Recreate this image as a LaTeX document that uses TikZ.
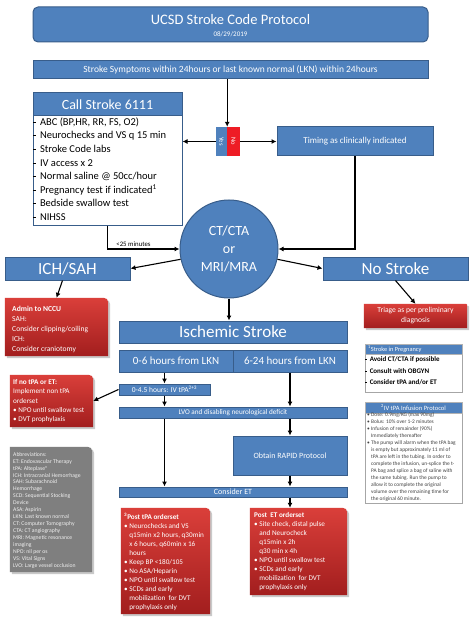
\documentclass[tikz,border=0pt]{standalone}
\usepackage{fontspec}
\setmainfont{Carlito}
\usetikzlibrary{arrows.meta,backgrounds,calc}
\definecolor{myblue}{HTML}{4F81BD}
\definecolor{myborder}{HTML}{385D8A}
\definecolor{redtop}{HTML}{DA3F3A}
\definecolor{redbot}{HTML}{A21E1E}
\definecolor{mygray}{HTML}{7F7F7F}
\definecolor{nored}{HTML}{EE1C25}
\newcommand{\fs}[2]{\fontsize{#1}{#2}\selectfont}
\newcommand{\dsh}{\rule[0.25em]{0.3em}{0.09em}\hspace{0.35em}}
\tikzset{
 bluebox/.style={draw=myborder, line width=1pt, fill=myblue, text=white, inner sep=0pt, align=center},
 whitebox/.style={draw=myborder, line width=1pt, fill=white, inner sep=0pt},
 plainbox/.style={inner sep=0pt, draw=none},
 arr/.style={draw=black, line width=1.1pt, -{Latex[length=5pt,width=5pt]}},
 ln/.style={draw=black, line width=1.1pt},
 txt/.style={inner sep=0pt, align=left, anchor=north west, text=white},
}
\newcommand{\cornerbox}[3]{%
 \begin{scope}[on background layer]
  \fill[black!35,opacity=0.6] ([xshift=2pt,yshift=-2pt]#1.south west) -- ([xshift=2pt,yshift=-2pt]#1.north west) -- ([xshift=2pt-#2,yshift=-2pt]#1.north east) .. controls ([xshift=2pt,yshift=-2pt]#1.north east) .. ([xshift=2pt,yshift=-2pt-#2]#1.north east) -- ([xshift=2pt,yshift=-2pt]#1.south east) -- cycle;
  \shade[#3] (#1.south west) -- (#1.north west) -- ([xshift=-#2]#1.north east) .. controls (#1.north east) .. ([yshift=-#2]#1.north east) -- (#1.south east) -- cycle;
 \end{scope}}
\begin{document}
\begin{tikzpicture}[x=1pt,y=-1pt]
\useasboundingbox (0,0) rectangle (474,620);
\begin{scope}[on background layer]
\fill[white] (0,0) rectangle (474,620);
\end{scope}

% title
\node[bluebox, rounded corners=5pt, minimum width=395pt, minimum height=35pt] (title) at (230.5,24.5) {};
\node[plainbox, text=white, font=\fs{14.5}{16}] (titletxt) at (230.5,19.5) {UCSD Stroke Code Protocol};
\node[plainbox, text=white, font=\fs{7}{8}] (date) at (230.5,34.5) {08/29/2019};

\node[bluebox, minimum width=395pt, minimum height=18pt, font=\fs{9.5}{11}] (sym) at (230.5,70) {Stroke Symptoms within 24hours or last known normal (LKN) within 24hours};

% call stroke
\node[whitebox, minimum width=149pt, minimum height=109pt] (callbody) at (107.5,170.5) {};
\node[bluebox, minimum width=149pt, minimum height=23pt, font=\fs{14}{16}] (callhead) at (107.5,104.5) {Call Stroke 6111};
\node[txt, text=black, font=\fs{10.5}{13.6}] (calllist) at (33,117.5) {\dsh ABC (BP,HR, RR, FS, O2)\\\dsh Neurochecks and VS q 15 min\\\dsh Stroke Code labs\\\dsh IV access x 2\\\dsh Normal saline @ 50cc/hour\\\dsh Pregnancy test if indicated\textsuperscript{1}\\\dsh Bedside swallow test\\\dsh NIHSS};

% yes / no
\node[plainbox, fill=myblue, minimum width=11pt, minimum height=29pt] (yes) at (221.5,141.5) {};
\node[plainbox, fill=nored, minimum width=13pt, minimum height=29pt] (no) at (233.5,141.5) {};
\node[plainbox, text=white, rotate=-90, font=\fs{6.5}{7}] (yestxt) at (yes) {Yes};
\node[plainbox, text=white, rotate=-90, font=\fs{6.5}{7}] (notxt) at (no) {No};

\node[bluebox, minimum width=156pt, minimum height=29pt, font=\fs{9}{11}] (timing) at (355,141.5) {Timing as clinically indicated};

% circle
\node[circle, draw=myborder, line width=1pt, fill=myblue, minimum size=98pt, inner sep=0pt, text=white, align=center, font=\fs{14}{18}] (ct) at (229,249) {CT/CTA\\or\\MRI/MRA};

\node[plainbox, font=\fs{6.8}{8}] (lt25) at (133.5,244.5) {<25 minutes};

\node[bluebox, minimum width=125pt, minimum height=23pt, font=\fs{17}{19}] (ich) at (67.5,268.5) {ICH/SAH};
\node[bluebox, minimum width=145pt, minimum height=23pt, font=\fs{17}{19}] (nostroke) at (395.5,268.5) {No Stroke};

% red boxes
\node[plainbox, minimum width=103pt, minimum height=58pt] (adm) at (56.5,327) {};
\cornerbox{adm}{10pt}{top color=redtop,bottom color=redbot}
\node[txt, font=\fs{7.6}{10}] (admtxt) at (12,305.5) {\textbf{Admin to NCCU}\\SAH:\\Consider clipping/coiling\\ICH:\\Consider craniotomy};

\node[plainbox, minimum width=103pt, minimum height=24pt] (triage) at (415.5,316) {};
\cornerbox{triage}{1pt}{top color=redtop,bottom color=redbot}
\node[plainbox, text=white, align=center, font=\fs{7.6}{10}] (triagetxt) at (triage) {Triage as per preliminary\\diagnosis};

% ischemic
\node[bluebox, minimum width=228pt, minimum height=22pt, font=\fs{17}{19}] (isch) at (233,332) {Ischemic Stroke};
\node[bluebox, minimum width=114pt, minimum height=22pt, font=\fs{11}{13}] (h06) at (176,361) {0-6 hours from LKN};
\node[bluebox, minimum width=114pt, minimum height=22pt, font=\fs{11}{13}] (h624) at (290,361) {6-24 hours from LKN};
\node[bluebox, minimum width=91pt, minimum height=11pt, font=\fs{7.5}{8}] (tpa45) at (164.5,389.5) {0-4.5 hours: IV tPA\textsuperscript{2+3}};

\node[plainbox, minimum width=83pt, minimum height=52pt] (notpa) at (51.5,401) {};
\cornerbox{notpa}{10pt}{top color=redtop,bottom color=redbot}
\node[txt, font=\fs{7.2}{9.2}] (notpatxt) at (13,379.5) {\textbf{If no tPA or ET:}\\Implement non tPA\\orderset\\• NPO until swallow test\\• DVT prophylaxis};

\node[bluebox, minimum width=228pt, minimum height=11pt, font=\fs{7.2}{8}] (lvo) at (233,412.5) {LVO and disabling neurological deficit};
\node[bluebox, minimum width=114pt, minimum height=39pt, font=\fs{8}{10}] (rapid) at (290,455.5) {Obtain RAPID Protocol};
\node[bluebox, minimum width=228pt, minimum height=10pt, font=\fs{8}{9}] (cet) at (233,492) {Consider ET};

% abbreviations
\node[plainbox, minimum width=82pt, minimum height=125pt] (abbr) at (51,509.5) {};
\cornerbox{abbr}{10pt}{top color=mygray,bottom color=mygray}
\node[txt, text=white!88!gray, font=\fs{5.7}{6.95}] (abbrtxt) at (13,452) {Abbreviations:\\ET: Endovascular Therapy\\tPA: Alteplase®\\ICH: Intracranial Hemorrhage\\SAH: Subarachnoid\\Hemorrhage\\SCD: Sequential Stocking\\Device\\ASA: Aspirin\\LKN: Last known normal\\CT: Computer Tomography\\CTA: CT angiography\\MRI: Magnetic resonance\\imaging\\NPO: nil per os\\VS: Vital Signs\\LVO: Large vessel occlusion};

% post tPA
\node[plainbox, minimum width=89pt, minimum height=106pt] (posttpa) at (165.5,561) {};
\cornerbox{posttpa}{10pt}{top color=redtop,bottom color=redbot}
\node[txt, font=\fs{7.2}{9}] (posttpatxt) at (124,512.5) {\textbf{\textsuperscript{3}Post tPA orderset}\\• Neurochecks and VS\\\phantom{• }q15min x2 hours, q30min\\\phantom{• }x 6 hours, q60min x 16\\\phantom{• }hours\\• Keep BP <180/105\\• No ASA/Heparin\\• NPO until swallow test\\• SCDs and early\\\phantom{• }mobilization\ \ for DVT\\\phantom{• }prophylaxis only};

% post ET
\node[plainbox, minimum width=97pt, minimum height=87pt] (postet) at (298.5,551.5) {};
\cornerbox{postet}{10pt}{top color=redtop,bottom color=redbot}
\node[txt, font=\fs{7.2}{9}] (postettxt) at (254,512.5) {\textbf{Post\ \ ET orderset}\\• Site check, distal pulse\\\phantom{• }and Neurocheck\\\phantom{• }q15min x 2h\\\phantom{• }q30 min x 4h\\• NPO until swallow test\\• SCDs and early\\\phantom{• }mobilization\ \ for DVT\\\phantom{• }prophylaxis only};

% pregnancy
\node[draw=gray!70, fill=white, line width=0.6pt, minimum width=97pt, minimum height=38pt, inner sep=0pt] (pregbody) at (413.5,373) {};
\node[bluebox, draw=gray!60, line width=0.6pt, minimum width=97pt, minimum height=10pt] (preghead) at (413.5,349) {};
\node[plainbox, anchor=west, text=white, font=\fs{6.3}{7}] (pregheadtxt) at (368,349) {\textsuperscript{1}Stroke in Pregnancy};
\node[txt, text=black, font=\bfseries\fs{7}{11.5}] (pregtxt) at (365,356.5) {\dsh Avoid CT/CTA if possible\\\dsh Consult with OBGYN\\\dsh Consider tPA and/or ET};

% tPA infusion
\node[draw=gray!70, fill=white, line width=0.6pt, minimum width=97pt, minimum height=90pt, inner sep=0pt] (tpabody) at (413.5,458) {};
\node[bluebox, draw=gray!60, line width=0.6pt, minimum width=97pt, minimum height=11pt, font=\fs{6.5}{7}] (tpahead) at (413.5,407.5) {\textsuperscript{2}IV tPA Infusion Protocol};
\node[txt, text=black!75, font=\fs{5.4}{7}] (tpatxt) at (367,412.5) {• Dose: 0.9mg/KG (max 90mg)\\• Bolus: 10\% over 1-2 minutes\\• Infusion of remainder (90\%)\\\phantom{• }Immediately thereafter\\• The pump will alarm when the tPA bag\\\phantom{• }is empty but approximately 11 ml of\\\phantom{• }tPA are left in the tubing. In order to\\\phantom{• }complete the infusion, un-splice the t-\\\phantom{• }PA bag and splice a bag of saline with\\\phantom{• }the same tubing. Run the pump to\\\phantom{• }allow it to complete the original\\\phantom{• }volume over the remaining time for\\\phantom{• }the original 60 minute.};

% connectors
\draw[arr] (yes.north east |- sym.south) -- (yes.north east);
\draw[arr] (yes.west) -- (callbody.east |- yes.west);
\draw[arr] (no.east) -- (timing.west);
\draw[arr] (callbody.south) |- (ct.west);
\draw[arr] (timing.south) |- (ct.east);
\draw[arr] (ct.192) -- (ich.east);
\draw[arr] (ct.348) -- (nostroke.west);
\draw[arr] ([xshift=-5pt]ich.south) -- (adm.north);
\draw[arr] (nostroke.south) -- (triage.north);
\draw[arr] (ct.south) -- (ct.south |- isch.north);
\draw[arr] (tpa45.north |- h06.south) -- (tpa45.north);
\draw[arr] (tpa45.west) -- (notpa.east);
\draw[arr] (tpa45.south) -- (tpa45.south |- lvo.north);
\draw[arr] (h624.south) -- (h624.south |- lvo.north);
\draw[arr] (tpa45.south |- lvo.south) -- (tpa45.south |- cet.north);
\draw[arr] (rapid.north |- lvo.south) -- (rapid.north);
\draw[arr] (rapid.south) -- (rapid.south |- cet.north);
\draw[arr] (rapid.south |- cet.south) -- (rapid.south |- postet.north);
\end{tikzpicture}
\end{document}
